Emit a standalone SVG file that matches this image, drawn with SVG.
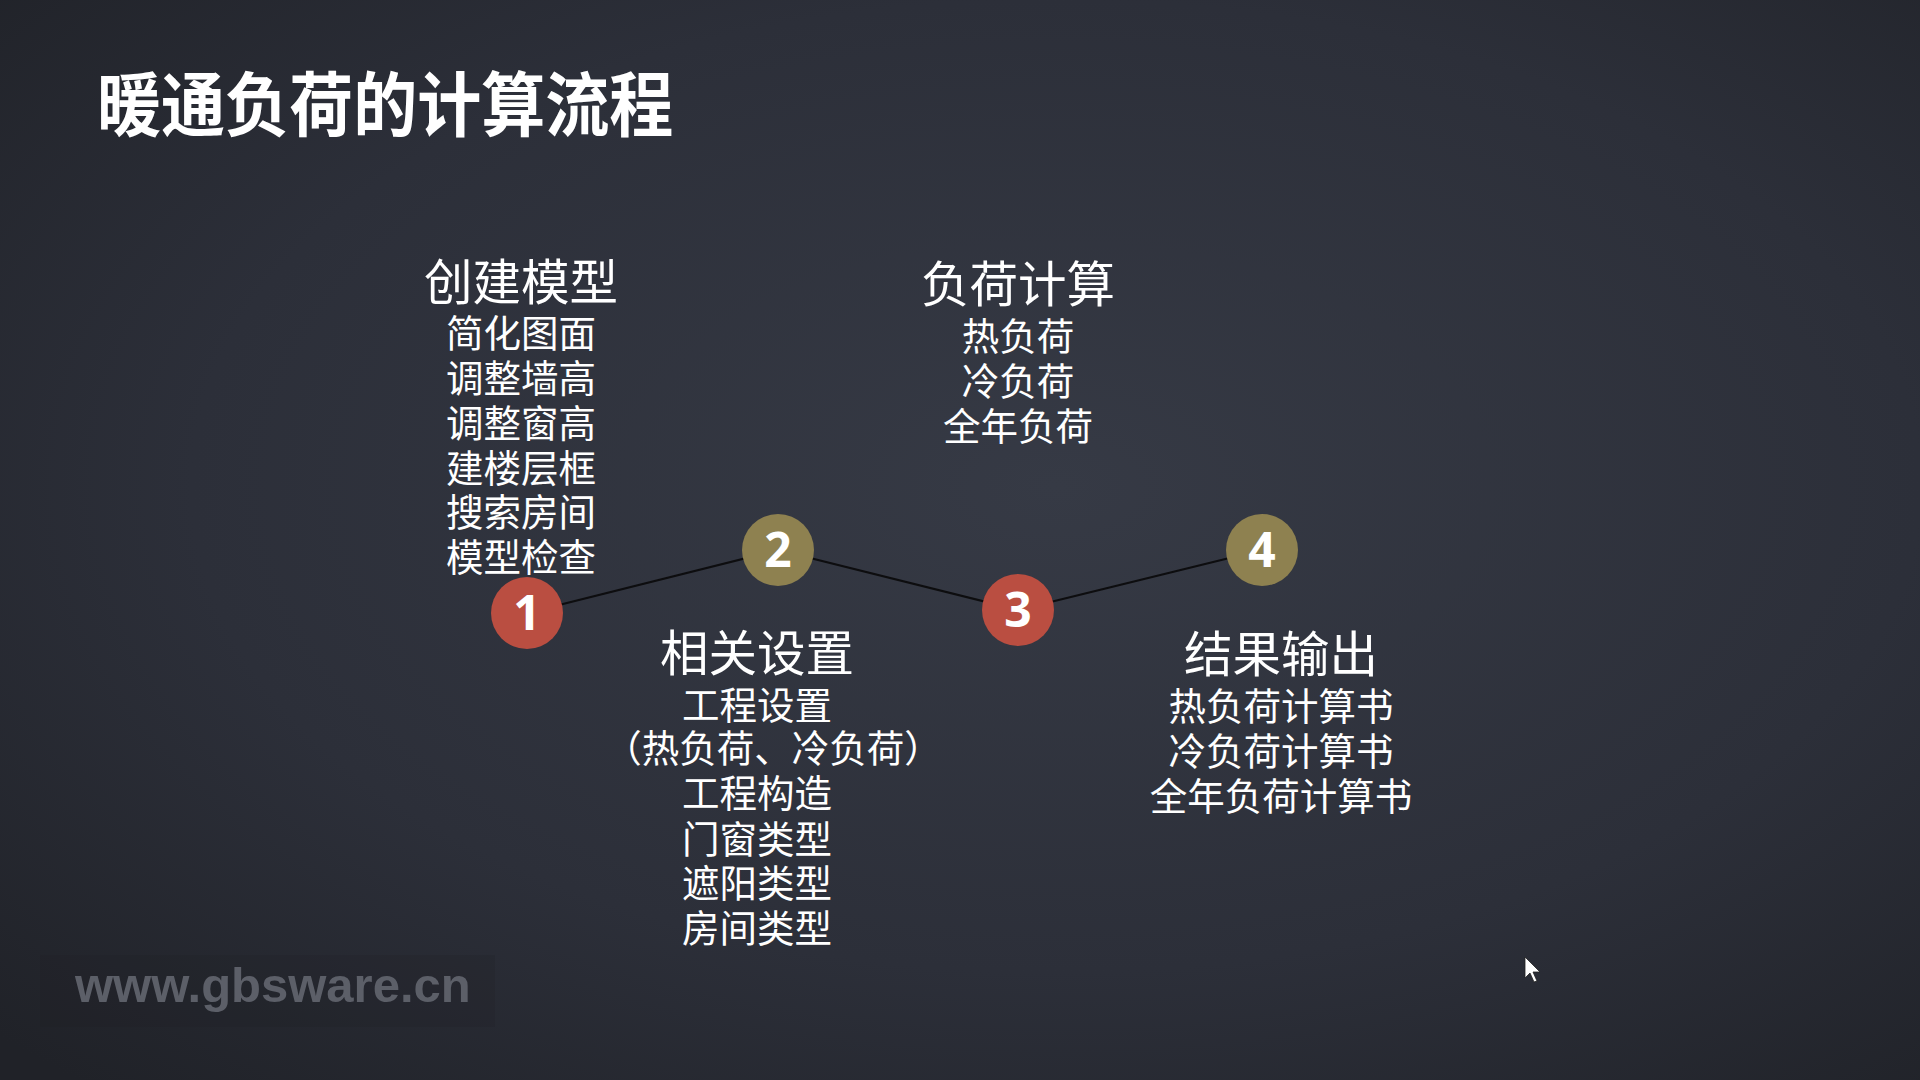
<svg xmlns="http://www.w3.org/2000/svg" width="1920" height="1080" viewBox="0 0 1920 1080">
  <defs>
    <radialGradient id="bg" cx="0.55" cy="0.45" r="0.75">
      <stop offset="0" stop-color="#363a45"/>
      <stop offset="0.6" stop-color="#2c2f39"/>
      <stop offset="1" stop-color="#202228"/>
    </radialGradient>
    <style>
      .title { font-family: "Noto Sans CJK SC", "Noto Sans", sans-serif; font-weight: 700; font-size: 70px; fill: #ffffff; }
      .head { font-family: "Noto Sans CJK SC", sans-serif; font-size: 48.5px; fill: #ffffff; text-anchor: middle; }
      .item { font-family: "Noto Sans CJK SC", sans-serif; font-size: 37.5px; fill: #ffffff; text-anchor: middle; }
      .num { font-family: "Open Sans", "Noto Sans", sans-serif; font-weight: 700; font-size: 48px; fill: #ffffff; text-anchor: middle; }
      .red { fill: #ba4e41; }
      .olive { fill: #8e8150; }
      .conn { stroke: #0d0d0f; stroke-width: 2.2; fill: none; }
      .wm { font-family: "Liberation Sans", Arial, sans-serif; font-weight: 700; font-size: 49px; fill: #5c5f68; }
    </style>
  </defs>
  <rect width="1920" height="1080" fill="url(#bg)"/>
  <rect x="40" y="955" width="455" height="72" fill="#1d1f24" opacity="0.2"/>

  <text class="title" transform="translate(97,131) scale(0.915,1)" x="0" y="0">暖通负荷的计算流程</text>

  <g id="connectors">
    <line class="conn" x1="527" y1="613" x2="778" y2="550"/>
    <line class="conn" x1="778" y1="550" x2="1018" y2="610"/>
    <line class="conn" x1="1018" y1="610" x2="1262" y2="550"/>
  </g>

  <g id="step1">
    <circle class="red" cx="527" cy="613" r="36"/>
    <text class="num" x="527" y="630">1</text>
    <text class="head" x="521" y="300">创建模型</text>
    <text class="item" x="521" y="347">简化图面</text>
    <text class="item" x="521" y="392">调整墙高</text>
    <text class="item" x="521" y="437">调整窗高</text>
    <text class="item" x="521" y="482">建楼层框</text>
    <text class="item" x="521" y="526">搜索房间</text>
    <text class="item" x="521" y="571">模型检查</text>
  </g>

  <g id="step2">
    <circle class="olive" cx="778" cy="550" r="36"/>
    <text class="num" x="778" y="567">2</text>
    <text class="head" x="757" y="671">相关设置</text>
    <text class="item" x="757" y="719">工程设置</text>
    <text class="item" x="773" y="762">（热负荷、冷负荷）</text>
    <text class="item" x="757" y="807">工程构造</text>
    <text class="item" x="757" y="853">门窗类型</text>
    <text class="item" x="757" y="897">遮阳类型</text>
    <text class="item" x="757" y="942">房间类型</text>
  </g>

  <g id="step3">
    <circle class="red" cx="1018" cy="610" r="36"/>
    <text class="num" x="1018" y="627">3</text>
    <text class="head" x="1018" y="302">负荷计算</text>
    <text class="item" x="1018" y="350">热负荷</text>
    <text class="item" x="1018" y="395">冷负荷</text>
    <text class="item" x="1018" y="440">全年负荷</text>
  </g>

  <g id="step4">
    <circle class="olive" cx="1262" cy="550" r="36"/>
    <text class="num" x="1262" y="567">4</text>
    <text class="head" x="1281" y="672">结果输出</text>
    <text class="item" x="1281" y="720">热负荷计算书</text>
    <text class="item" x="1281" y="765">冷负荷计算书</text>
    <text class="item" x="1281" y="810">全年负荷计算书</text>
  </g>

  <text class="wm" x="75" y="1002">www.gbsware.cn</text>

  <polygon points="1525,957 1525,978 1530,973 1534,982 1537,981 1533,972 1540,972" fill="#ffffff" stroke="#222" stroke-width="0.8"/>
</svg>
